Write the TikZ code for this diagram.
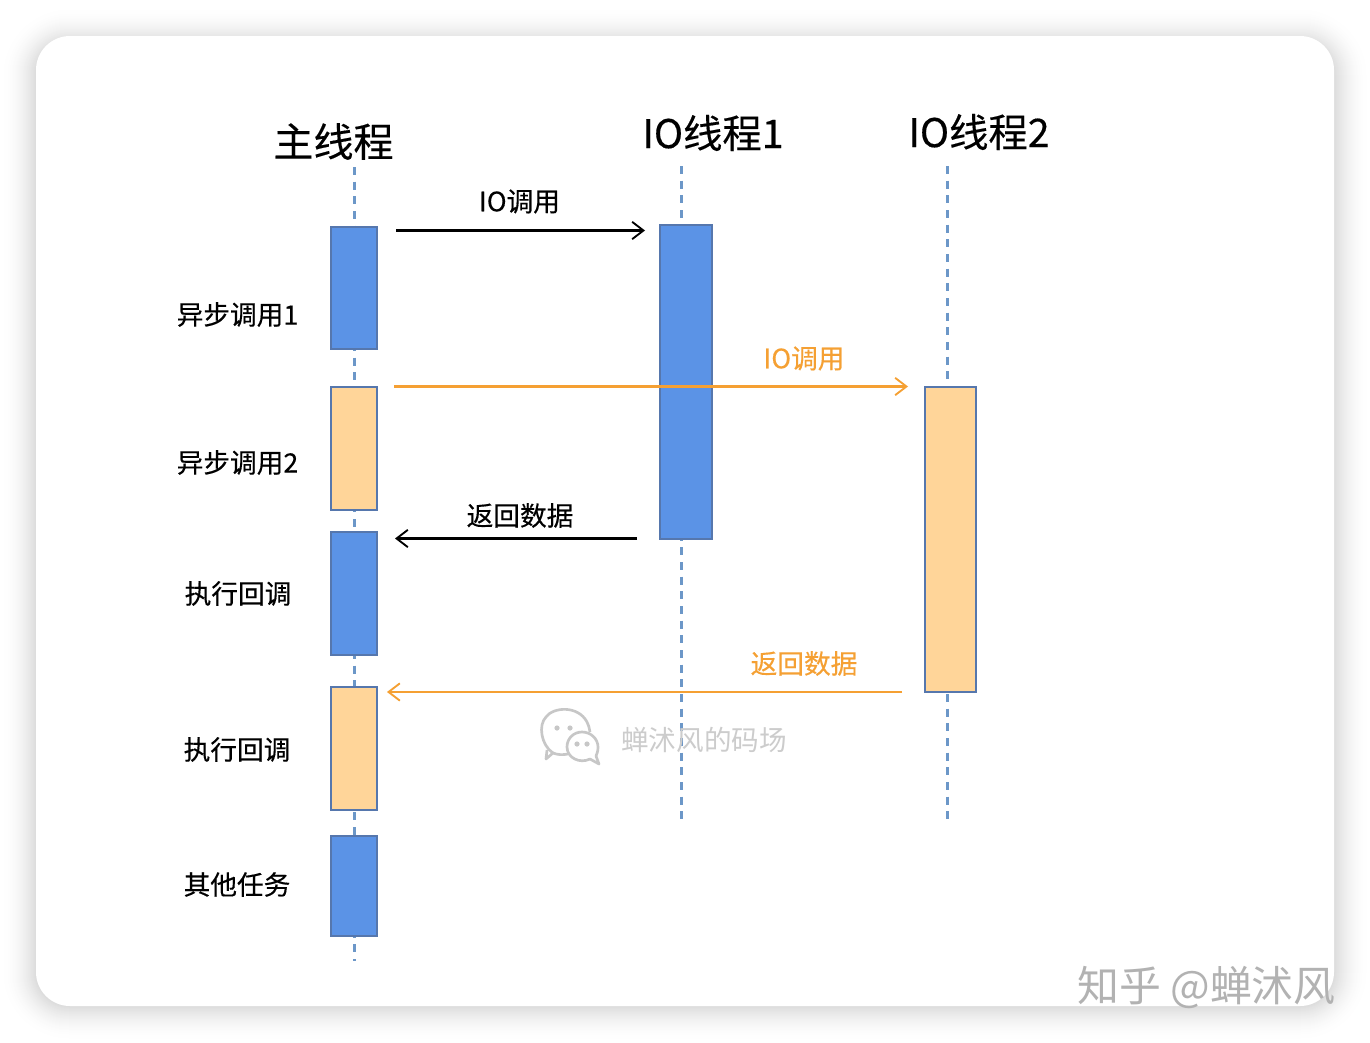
\documentclass[tikz,border=0pt]{standalone}
\usepackage{fontspec}
\setmainfont{Noto Sans CJK SC}
\newfontfamily\labelfont[FakeBold=0.35]{Noto Sans CJK SC}
\usetikzlibrary{arrows.meta}
\definecolor{barblue}{HTML}{5B93E6}
\definecolor{barorange}{HTML}{FFD599}
\definecolor{barline}{HTML}{5677AD}
\definecolor{lifeblue}{HTML}{6C97C8}
\definecolor{callorange}{HTML}{F5A033}
\tikzset{
  x=0.75pt,y=-0.75pt,
  bar/.style={draw=barline,line width=2pt,inner sep=0pt,outer sep=0pt,anchor=north west},
  bluebar/.style={bar,fill=barblue},
  orangebar/.style={bar,fill=barorange},
  lifeline/.style={draw=lifeblue,line width=1.9pt,dash pattern=on 6pt off 5pt},
  callarrow/.style={line width=1.7pt,-{Straight Barb[length=8.5pt,width=13pt,line width=1.4pt]}},
  headtext/.style={inner sep=0pt,text=black},
  steptext/.style={inner sep=0pt,text=black,font=\labelfont\fontsize{20pt}{22pt}\selectfont},
  calltext/.style={inner sep=0pt,font=\labelfont\fontsize{20pt}{22pt}\selectfont},
  wmline/.style={draw=black!22,line width=2pt,line join=round},
}
\begin{document}
\begin{tikzpicture}
\useasboundingbox (0,0) rectangle (1370,1042);
\fill[white] (0,0) rectangle (1370,1042);
% card shadow
\foreach \i in {36,35,...,1}{
  \pgfmathsetmacro{\shade}{14*(1-\i/36)*(1-\i/36)}
  \fill[black!\shade!white,rounded corners={(34+\i)*0.75pt}]
    (36-\i,36-\i+6) rectangle (1334+\i,1006+\i);
}
\fill[white,rounded corners=25.5pt] (36,36) rectangle (1334,1006);

% lifeline ends
\coordinate (m0) at (354.4,167);
\coordinate (m1) at (354.4,961);
\coordinate (a0) at (681.5,166);
\coordinate (a1) at (681.5,822);
\coordinate (b0) at (947.5,166);
\coordinate (b1) at (947.5,822);
\draw[lifeline] (m0) -- (m1);
\draw[lifeline] (a0) -- (a1);
\draw[lifeline] (b0) -- (b1);

% bars
\node[bluebar,minimum width=34.5pt,minimum height=91.5pt] (s1) at (331,227) {};
\node[orangebar,minimum width=34.5pt,minimum height=92.25pt] (s2) at (331,387) {};
\node[bluebar,minimum width=34.5pt,minimum height=92.25pt] (s3) at (331,532) {};
\node[orangebar,minimum width=34.5pt,minimum height=92.25pt] (s4) at (331,687) {};
\node[bluebar,minimum width=34.5pt,minimum height=75pt] (s5) at (331,836) {};
\node[bluebar,minimum width=39pt,minimum height=235.5pt] (io1) at (660,225) {};
\node[orangebar,minimum width=38.25pt,minimum height=228.75pt] (io2) at (925,387) {};

% titles
\node[headtext,font=\labelfont\fontsize{30pt}{34pt}\selectfont] (t0) at (333.5,141.5) {主线程};
\node[headtext,font=\labelfont\fontsize{29.5pt}{32pt}\selectfont] (t1) at (713,133) {IO线程1};
\node[headtext,font=\labelfont\fontsize{29.5pt}{32pt}\selectfont] (t2) at (979,132) {IO线程2};

% step labels
\node[steptext] (l1) at (237.5,314.5) {异步调用1};
\node[steptext] (l2) at (237.5,462.5) {异步调用2};
\node[steptext] (l3) at (238,593.5) {执行回调};
\node[steptext] (l4) at (237,749.5) {执行回调};
\node[steptext] (l5) at (237,884.5) {其他任务};

% calls
\coordinate (c1a) at (396,230.5);
\coordinate (c1b) at (645,230.5);
\coordinate (c2a) at (394,386.5);
\coordinate (c2b) at (908,386.5);
\coordinate (c3a) at (637,538.5);
\coordinate (c3b) at (395,538.5);
\coordinate (c4a) at (902,692);
\coordinate (c4b) at (387,692);
\draw[callarrow,black] (c1a) -- (c1b);
\draw[callarrow,callorange] (c2a) -- (c2b);
\draw[callarrow,black] (c3a) -- (c3b);
\draw[callarrow,callorange] (c4a) -- (c4b);
\node[calltext,text=black] (n1) at (519.5,201.5) {IO调用};
\node[calltext,text=callorange] (n2) at (804,358.5) {IO调用};
\node[calltext,text=black] (n3) at (520,515.5) {返回数据};
\node[calltext,text=callorange] (n4) at (804,663.5) {返回数据};

% wechat mark
\draw[wmline] (553,753) .. controls (541,745) and (538,725) .. (546,717)
  .. controls (553,707) and (578,705) .. (587,722)
  .. controls (589,725) and (589,728) .. (590,732);
\draw[wmline] (553,753) -- (546,759) -- (547,750);
\draw[wmline] (553,753) .. controls (558,755) and (563,755) .. (568,754);
\draw[wmline] (567,747) .. controls (567,738) and (574,732) .. (582,732)
  .. controls (591,732) and (598,739) .. (598,747)
  .. controls (598,751) and (597,754) .. (596,756)
  -- (599,764) -- (590,759)
  .. controls (580,764) and (567,758) .. (567,747) -- cycle;
\fill[black!22] (557,728) circle (2.6) (570,728) circle (2.6) (577,744) circle (2.6) (587,744) circle (2.6);
\node[inner sep=0pt,text=black!20,font=\fontsize{20.7pt}{24pt}\selectfont] (wm) at (704,740) {蝉沭风的码场};

% site mark
\node[inner sep=0pt,text=black!30,font=\fontsize{31.4pt}{34pt}\selectfont] (site) at (1206.5,987) {知乎 @蝉沭风};
\end{tikzpicture}
\end{document}
